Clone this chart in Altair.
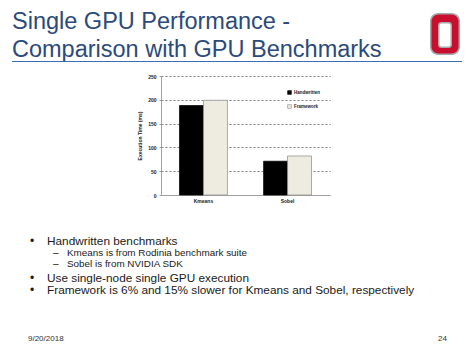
import altair as alt
import pandas as pd

# ---- data ----
categories = ["Kmeans", "Sobel"]
series = ["Handwritten", "Framework"]
handwritten = [188, 71]
framework = [199, 82]
y_ticks = [0, 50, 100, 150, 200, 250]

title_lines = ["Single GPU Performance -", "Comparison with GPU Benchmarks"]
bullets = [
    ("main", "Handwritten benchmarks"),
    ("sub", "Kmeans is from Rodinia benchmark suite"),
    ("sub", "Sobel is from NVIDIA SDK"),
    ("main", "Use single-node single GPU execution"),
    ("main", "Framework is 6% and 15% slower for Kmeans and Sobel, respectively"),
]
footer_date = "9/20/2018"
footer_page = "24"

rows = []
for i, c in enumerate(categories):
    rows.append({"benchmark": c, "series": series[0], "time": handwritten[i]})
    rows.append({"benchmark": c, "series": series[1], "time": framework[i]})
df = pd.DataFrame(rows)

FONT = "Liberation Sans"
PLOT_L, PLOT_T = 161, 76  # page coords of plot origin
def px(x):
    return x - PLOT_L
def py(y):
    return y - PLOT_T

W, H = 169, 119

fill_scale = alt.Scale(domain=series, range=["#000000", "#EEECE1"])
stroke_scale = alt.Scale(domain=series, range=["#000000", "#8A8A8A"])

legend_kw = dict(title=None, orient="none", legendX=126, legendY=14,
                 symbolType="square", symbolSize=14,
                 labelFontSize=4.5, labelFont=FONT, labelColor="#222",
                 labelFontWeight="bold", rowPadding=7,
                 symbolStrokeWidth=0.6, labelOffset=2)

bars = alt.Chart(df).mark_bar(strokeWidth=0.7).encode(
    x=alt.X("benchmark:N", sort=categories,
            scale=alt.Scale(paddingInner=0.43, paddingOuter=0.22),
            axis=alt.Axis(title=None, labelAngle=0, labelFontSize=5, labelFontWeight="bold",
                          labelFont=FONT, labelColor="#222", labelPadding=3,
                          domainColor="#A0A0A0", tickColor="#A0A0A0", tickSize=0,
                          grid=False)),
    xOffset=alt.XOffset("series:N", sort=series),
    y=alt.Y("time:Q", scale=alt.Scale(domain=[0, 250], nice=False),
            axis=alt.Axis(title="Execution Time (ms)", values=y_ticks, labelFontSize=5,
                          labelFontWeight="bold", labelFont=FONT, labelColor="#222",
                          titleFontSize=5, titleFontWeight="bold", titleFont=FONT,
                          titleColor="#222", titlePadding=5, labelPadding=3,
                          domainColor="#A0A0A0", tickColor="#A0A0A0", tickSize=2,
                          grid=True, gridColor="#222222", gridDash=[2, 2],
                          gridWidth=0.6)),
    fill=alt.Fill("series:N", scale=fill_scale, sort=series,
                  legend=alt.Legend(**legend_kw)),
    stroke=alt.Stroke("series:N", scale=stroke_scale, sort=series,
                      legend=alt.Legend(**legend_kw)),
)

TITLE_COLOR = "#2C4A7A"

def text_layer(txt, x, y, size, color="#1a1a1a", align="left", weight="normal"):
    return alt.Chart(pd.DataFrame({"t": [txt]})).mark_text(
        align=align, baseline="alphabetic", fontSize=size, font=FONT,
        color=color, fontWeight=weight
    ).encode(text="t:N", x=alt.value(px(x)), y=alt.value(py(y)))

layers = [bars]
layers.append(text_layer(title_lines[0], 12, 28.5, 23.5, TITLE_COLOR))
layers.append(text_layer(title_lines[1], 12, 56.5, 23.5, TITLE_COLOR))

underline = alt.Chart(pd.DataFrame({"a": [0]})).mark_rule(
    color="#3B6DB3", strokeWidth=1.2
).encode(x=alt.value(px(12)), x2=alt.value(px(462)), y=alt.value(py(61.5)))
layers.append(underline)

# logo (block O)
def rect(x1, x2, y1, y2, color, radius):
    return alt.Chart(pd.DataFrame({"a": [0]})).mark_rect(
        color=color, cornerRadius=radius
    ).encode(x=alt.value(px(x1)), x2=alt.value(px(x2)),
             y=alt.value(py(y1)), y2=alt.value(py(y2)))

layers.append(rect(430, 460, 13, 55, "#A7A9AC", 8))
layers.append(rect(431.5, 458.5, 14.5, 53.5, "#C8102E", 7))
layers.append(rect(438, 452, 22, 48, "#A7A9AC", 3))
layers.append(rect(439.5, 450.5, 23.5, 46.5, "#FFFFFF", 2))

# bullets
main_y = {0: 244.5, 3: 281.5, 4: 294}
sub_y = {1: 256, 2: 267}
for i, (kind, txt) in enumerate(bullets):
    if kind == "main":
        y = main_y[i]
        layers.append(text_layer("•", 30, y, 12))
        layers.append(text_layer(txt, 47, y, 11.8))
    else:
        y = sub_y[i]
        layers.append(text_layer("–", 53, y, 10))
        layers.append(text_layer(txt, 67, y, 9.9))

layers.append(text_layer(footer_date, 28, 341, 8, "#333"))
layers.append(text_layer(footer_page, 447, 341, 8, "#333", align="right"))

chart = alt.layer(*layers).properties(
    width=W, height=H,
    padding={"left": PLOT_L - 8, "top": PLOT_T - 8, "right": 458 - (PLOT_L - 8) - W,
             "bottom": 339 - (PLOT_T - 8) - H},
    autosize=alt.AutoSizeParams(type="none"),
    background="white",
).configure_view(stroke=None)

chart.save("out.html", embed_options={"renderer": "svg", "actions": False})
